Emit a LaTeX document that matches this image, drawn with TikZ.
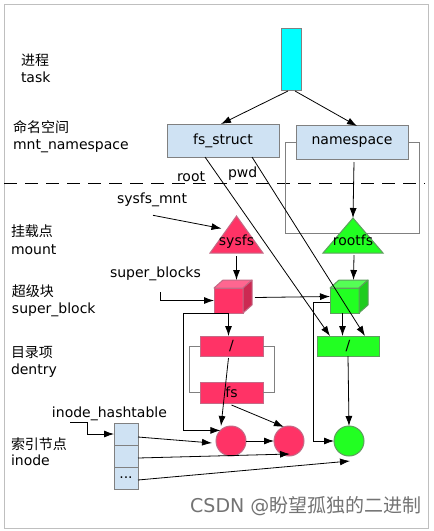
\documentclass[tikz,border=0pt]{standalone}
\usepackage{fontspec}
\setmainfont{DejaVu Sans}
\newfontfamily\cjk{Noto Sans CJK SC}
\usetikzlibrary{arrows.meta}
\definecolor{mycyan}{HTML}{00FFFF}
\definecolor{myred}{HTML}{FF3366}
\definecolor{myredtop}{HTML}{FF6690}
\definecolor{myredside}{HTML}{CC2952}
\definecolor{myredline}{HTML}{C46A86}
\definecolor{mygreen}{HTML}{22FF22}
\definecolor{mygreentop}{HTML}{55FF55}
\definecolor{mygreenside}{HTML}{1ECC1E}
\definecolor{mygreenline}{HTML}{5E9E5E}
\definecolor{myblue}{HTML}{CFE2F3}
\definecolor{mygray}{HTML}{808080}
\begin{document}
\begin{tikzpicture}[x=1pt,y=-1pt,
  txt/.style={inner sep=0pt, outer sep=0pt, font=\fontsize{14}{16}\selectfont},
  arr/.style={-{Latex[length=10pt,width=7pt]}, line width=0.8pt},
  grayline/.style={draw=mygray, line width=1pt},
  bluebox/.style={draw=mygray, fill=myblue, line width=1pt, inner sep=0pt, outer sep=0pt, font=\fontsize{14}{16}\selectfont},
  redbox/.style={draw=myredline, fill=myred, line width=1pt, inner sep=0pt, outer sep=0pt, font=\fontsize{14}{16}\selectfont},
  greenbox/.style={draw=mygreenline, fill=mygreen, line width=1pt, inner sep=0pt, outer sep=0pt, font=\fontsize{14}{16}\selectfont},
  holder/.style={inner sep=0pt, outer sep=0pt},
  circ/.style={circle, minimum size=30pt, inner sep=0pt, outer sep=0pt, line width=1pt}
]
\useasboundingbox (0,0) rectangle (434,531);
\fill[white] (0,0) rectangle (434,531);
\draw[black!25, line width=1pt] (4,4) rectangle (428,528);

% left labels
\node[txt, anchor=base west] (lTaskA) at (21,65.5) {\cjk 进程};
\node[txt, anchor=base west] (lTaskB) at (21,82) {task};
\node[txt, anchor=base west] (lNsA) at (13,132) {\cjk 命名空间};
\node[txt, anchor=base west] (lNsB) at (13,149) {mnt\_namespace};
\node[txt, anchor=base west] (lMntA) at (11,236) {\cjk 挂载点};
\node[txt, anchor=base west] (lMntB) at (11,254) {mount};
\node[txt, anchor=base west] (lSbA) at (12,296) {\cjk 超级块};
\node[txt, anchor=base west] (lSbB) at (12,313) {super\_block};
\node[txt, anchor=base west] (lDeA) at (11,357) {\cjk 目录项};
\node[txt, anchor=base west] (lDeB) at (11,374) {dentry};
\node[txt, anchor=base west] (lInA) at (11,449) {\cjk 索引节点};
\node[txt, anchor=base west] (lInB) at (11,465) {inode};

% dashed separator
\draw[line width=0.9pt, dash pattern=on 13pt off 8pt] (4,183) -- (425,183);

% task
\node[draw=mygray, fill=mycyan, line width=1pt, minimum width=20pt, minimum height=62pt, inner sep=0pt, outer sep=0pt] (task) at (291,59) {};

% namespace frame
\draw[grayline] (285,142) rectangle (419,233);

% fs_struct and namespace
\node[bluebox, minimum width=112pt, minimum height=33pt] (fs) at (223,140.5) {fs\_struct};
\node[bluebox, minimum width=112pt, minimum height=34pt] (ns) at (352,142) {namespace};

% triangles
\node[holder, minimum width=53pt, minimum height=37pt] (sysfs) at (236.5,234.5) {};
\filldraw[fill=myred, draw=myredline, line width=1pt] (sysfs.south west) -- (sysfs.south east) -- (sysfs.north) -- cycle;
\node[txt, anchor=base] (sysfsLbl) at (236.5,245) {sysfs};
\node[holder, minimum width=60pt, minimum height=35pt] (rootfs) at (353,235.5) {};
\filldraw[fill=mygreen, draw=mygreenline, line width=1pt] (rootfs.south west) -- (rootfs.south east) -- (rootfs.north) -- cycle;
\node[txt, anchor=base] (rootfsLbl) at (353,245) {rootfs};

% cubes
\node[redbox, minimum width=29pt, minimum height=25pt] (rcube) at (228.5,300.5) {};
\filldraw[fill=myredtop, draw=myredline, line width=1pt, line join=round] (rcube.north west) -- ++(9,-8) -- ([shift={(9,-8)}]rcube.north east) -- (rcube.north east) -- cycle;
\filldraw[fill=myredside, draw=myredline, line width=1pt, line join=round] (rcube.north east) -- ++(9,-8) -- ([shift={(9,-8)}]rcube.south east) -- (rcube.south east) -- cycle;
\node[greenbox, minimum width=29pt, minimum height=25pt] (gcube) at (344.5,300.5) {};
\filldraw[fill=mygreentop, draw=mygreenline, line width=1pt, line join=round] (gcube.north west) -- ++(9,-8) -- ([shift={(9,-8)}]gcube.north east) -- (gcube.north east) -- cycle;
\filldraw[fill=mygreenside, draw=mygreenline, line width=1pt, line join=round] (gcube.north east) -- ++(9,-8) -- ([shift={(9,-8)}]gcube.south east) -- (gcube.south east) -- cycle;

% dentries
\node[redbox, minimum width=63pt, minimum height=20pt] (rd) at (231.5,346) {/};
\node[redbox, minimum width=63pt, minimum height=21pt] (fsd) at (231.5,392.5) {fs};
\node[greenbox, minimum width=62pt, minimum height=20pt] (gd) at (348,346) {/};
\draw[grayline] (rd.west) -- ++(-11,0) |- (fsd.west);
\draw[grayline] (rd.east) -- ++(11,0) |- (fsd.east);

% inodes
\node[circ, draw=myredline, fill=myred] (c1) at (231,441) {};
\node[circ, draw=myredline, fill=myred] (c2) at (289,441) {};
\node[circ, draw=mygreenline, fill=mygreen] (c3) at (349,441) {};

% hashtable
\node[bluebox, minimum width=24pt, minimum height=22pt] (h1) at (126,434) {};
\node[bluebox, minimum width=24pt, minimum height=22pt] (h2) at (126,456) {};
\node[bluebox, minimum width=24pt, minimum height=22pt] (h3) at (126,478) {...};

% other labels
\node[txt, anchor=base west] (sysfsmnt) at (117,203) {sysfs\_mnt};
\node[txt, anchor=base west] (sblocks) at (110,277) {super\_blocks};
\node[txt, anchor=base west] (ihash) at (52,417) {inode\_hashtable};
\node[txt, anchor=base west] (rootLbl) at (177,181.5) {root};
\node[txt, anchor=base west] (pwdLbl) at (228,177.5) {pwd};

\coordinate (sbStart) at (160,292);
\coordinate (ihStart) at (70,422);
\coordinate (ihBend) at (87,422);

% connectors
\draw[arr] ([shift={(-3,1)}]task.south) -- ([shift={(-2,0)}]fs.north);
\draw[arr] ([shift={(4,1)}]task.south) -- ([shift={(5,1)}]ns.north);
\draw[arr] ([shift={(2,3)}]ns.south) -- (rootfs.north);
\draw[arr] ([shift={(-18,0)}]fs.south) -- ([shift={(-18,0)}]gd.north);
\draw[arr] ([shift={(29,0)}]fs.south) -- ([shift={(17,0)}]gd.north);
\draw[arr] ([shift={(36,9)}]sysfsmnt.south west) -- ([shift={(-15,-6)}]sysfs.center);
\draw[arr] ([shift={(0,3)}]sysfs.south) -- ([shift={(8,-8)}]rcube.north);
\draw[arr] ([shift={(1,2)}]rootfs.south) -- ([shift={(9,-8)}]gcube.north);
\draw[arr] (sbStart) |- (rcube.west);
\draw[arr] ([shift={(12,-3)}]rcube.east) -- ([shift={(0,-4)}]gcube.west);
\draw[arr] (rcube.south) -- (rcube.south |- rd.north);
\draw[arr] (rcube.south) -- ++(-45,0) |- (c1.135);
\draw[arr] ([shift={(-2,0)}]gcube.south) -- ([shift={(-2,0)}]gcube.south |- gd.north);
\draw[arr] ([shift={(0,1.5)}]gcube.west) -- ++(-17,0) |- (c3.west);
\draw[arr] ([shift={(-3,2)}]rd.south) -- ([shift={(-10,-15)}]c1.center);
\draw[arr] ([shift={(0,2)}]fsd.south) -- (c2.110);
\draw[arr] (c1.east) -- (c2.west);
\draw[arr] (gd.south) -- (c3.north);
\draw[arr] (ihStart) -- (ihBend) |- (h1.west);
\draw[arr] ([shift={(0,3)}]h1.east) -- ([shift={(-4,2)}]c1.west);
\draw[arr] ([shift={(0,2)}]h2.east) -- ([shift={(1,-2)}]c2.south);
\draw[arr] ([shift={(0,2)}]h3.east) -- ([shift={(1,5)}]c3.south);

% watermark
\node[inner sep=0pt, anchor=base west, font=\fontsize{19}{19}\selectfont, text=black!55] (wm) at (190,512) {CSDN @\cjk 盼望孤独的二进制};
\end{tikzpicture}
\end{document}
